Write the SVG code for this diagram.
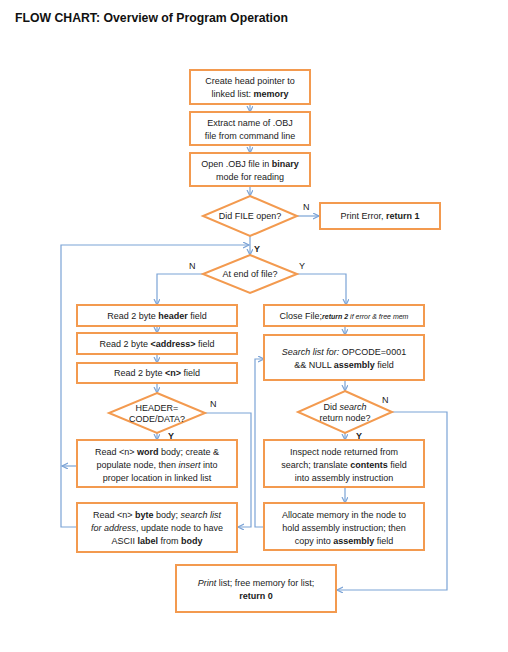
<svg xmlns="http://www.w3.org/2000/svg" width="508" height="652" viewBox="0 0 508 652">
<style>
.box{fill:#fff;stroke:#f39a4f;stroke-width:2}
.dec{fill:#fff;stroke:#f39a4f;stroke-width:2}
.t{font-family:"Liberation Sans",Arial,sans-serif;font-size:9px;fill:#1a1a1a;text-anchor:middle}
.lbl{font-family:"Liberation Sans",Arial,sans-serif;font-size:9px;fill:#1a1a1a}
.c{fill:none;stroke:#7ba3d6;stroke-width:1.2}
.b{font-weight:bold}
.i{font-style:italic}
</style>
<defs>
<marker id="ah" markerWidth="8" markerHeight="8" refX="6" refY="3" orient="auto" markerUnits="userSpaceOnUse">
<path d="M0,0 L6,3 L0,6" fill="none" stroke="#7ba3d6" stroke-width="1.2"/>
</marker>
</defs>
<rect width="508" height="652" fill="#fff"/>
<text x="15" y="22" font-family="'Liberation Sans',Arial,sans-serif" font-size="13" font-weight="bold" fill="#111" textLength="273" lengthAdjust="spacingAndGlyphs">FLOW CHART: Overview of Program Operation</text>

<g id="connectors">
<path class="c" d="M250,104 V112" marker-end="url(#ah)"/>
<path class="c" d="M250,145 V153" marker-end="url(#ah)"/>
<path class="c" d="M250,186 V196" marker-end="url(#ah)"/>
<path class="c" d="M297,216 H319" marker-end="url(#ah)"/>
<path class="c" d="M250,236 V255" marker-end="url(#ah)"/>
<path class="c" d="M77,527 H61 V245 H249" marker-end="url(#ah)"/>
<path class="c" d="M77,466 H62" marker-end="url(#ah)"/>
<path class="c" d="M203,274 H157 V305" marker-end="url(#ah)"/>
<path class="c" d="M297,274 H346 V305" marker-end="url(#ah)"/>
<path class="c" d="M157,326 V333" marker-end="url(#ah)"/>
<path class="c" d="M157,354 V363" marker-end="url(#ah)"/>
<path class="c" d="M157,383 V393" marker-end="url(#ah)"/>
<path class="c" d="M157,433 V440" marker-end="url(#ah)"/>
<path class="c" d="M205,413 H251 V527 H238" marker-end="url(#ah)"/>
<path class="c" d="M345,326 V335" marker-end="url(#ah)"/>
<path class="c" d="M345,380 V391" marker-end="url(#ah)"/>
<path class="c" d="M345,433 V440" marker-end="url(#ah)"/>
<path class="c" d="M345,487 V503" marker-end="url(#ah)"/>
<path class="c" d="M264,527 H255 V359 H264" marker-end="url(#ah)"/>
<path class="c" d="M392,412 H447 V590 H337" marker-end="url(#ah)"/>
<text class="lbl" x="303" y="210">N</text>
<text class="lbl b" x="254" y="252">Y</text>
<text class="lbl" x="189" y="269">N</text>
<text class="lbl" x="299" y="269">Y</text>
<text class="lbl" x="210" y="407">N</text>
<text class="lbl b" x="168" y="439">Y</text>
<text class="lbl" x="382" y="403">N</text>
<text class="lbl b" x="356" y="439">Y</text>
</g>

<g id="n1"><rect class="box" x="190" y="70" width="120" height="34"/>
<text class="t" x="250" y="84">Create head pointer to</text>
<text class="t" x="250" y="97">linked list: <tspan class="b">memory</tspan></text></g>

<g id="n2"><rect class="box" x="190" y="112" width="120" height="33"/>
<text class="t" x="250" y="126">Extract name of .OBJ</text>
<text class="t" x="250" y="139">file from command line</text></g>

<g id="n3"><rect class="box" x="190" y="153" width="120" height="33"/>
<text class="t" x="250" y="167">Open .OBJ file in <tspan class="b">binary</tspan></text>
<text class="t" x="250" y="180">mode for reading</text></g>

<g id="d1"><polygon class="dec" points="250,196 297,216 250,236 203,216"/>
<text class="t" x="250" y="219">Did FILE open?</text></g>

<g id="n4"><rect class="box" x="320" y="203" width="120" height="26"/>
<text class="t" x="380" y="219">Print Error, <tspan class="b">return 1</tspan></text></g>

<g id="d2"><polygon class="dec" points="250,255 297,274 250,293 203,274"/>
<text class="t" x="250" y="277">At end of file?</text></g>

<g id="n5"><rect class="box" x="77" y="305" width="160" height="21"/>
<text class="t" x="157" y="319">Read 2 byte <tspan class="b">header</tspan> field</text></g>

<g id="n6"><rect class="box" x="77" y="333" width="160" height="21"/>
<text class="t" x="157" y="347">Read 2 byte <tspan class="b">&lt;address&gt;</tspan> field</text></g>

<g id="n7"><rect class="box" x="77" y="363" width="160" height="20"/>
<text class="t" x="157" y="376">Read 2 byte <tspan class="b">&lt;n&gt;</tspan> field</text></g>

<g id="d3"><polygon class="dec" points="157,393 205,413 157,433 109,413"/>
<text class="t" x="157" y="411" font-size="8.5">HEADER=</text>
<text class="t" x="157" y="422" font-size="8.5">CODE/DATA?</text></g>

<g id="n8"><rect class="box" x="77" y="440" width="160" height="47"/>
<text class="t" x="157" y="455">Read &lt;n&gt; <tspan class="b">word</tspan> body; create &amp;</text>
<text class="t" x="157" y="468">populate node, then <tspan class="i">insert</tspan> into</text>
<text class="t" x="157" y="481">proper location in linked list</text></g>

<g id="n9"><rect class="box" x="77" y="503" width="160" height="49"/>
<text class="t" x="157" y="518">Read &lt;n&gt; <tspan class="b">byte</tspan> body; <tspan class="i">search list</tspan></text>
<text class="t" x="157" y="531"><tspan class="i">for address</tspan>, update node to have</text>
<text class="t" x="157" y="544">ASCII <tspan class="b">label</tspan> from <tspan class="b">body</tspan></text></g>

<g id="n10"><rect class="box" x="264" y="305" width="160" height="21"/>
<text class="t" x="344" y="319">Close File;<tspan class="b i" font-size="7">return 2</tspan><tspan class="i" font-size="7"> if error &amp; free mem</tspan></text></g>

<g id="n11"><rect class="box" x="264" y="335" width="160" height="45"/>
<text class="t" x="344" y="355"><tspan class="i">Search list for:</tspan> OPCODE=0001</text>
<text class="t" x="344" y="368">&amp;&amp; NULL <tspan class="b">assembly</tspan> field</text></g>

<g id="d4"><polygon class="dec" points="345,391 392,412 345,433 298,412"/>
<text class="t" x="345" y="410" font-size="8.5">Did <tspan class="i">search</tspan></text>
<text class="t" x="345" y="421" font-size="8.5">return node?</text></g>

<g id="n12"><rect class="box" x="264" y="440" width="160" height="47"/>
<text class="t" x="344" y="455">Inspect node returned from</text>
<text class="t" x="344" y="468">search; translate <tspan class="b">contents</tspan> field</text>
<text class="t" x="344" y="481">into assembly instruction</text></g>

<g id="n13"><rect class="box" x="264" y="503" width="160" height="47"/>
<text class="t" x="344" y="518">Allocate memory in the node to</text>
<text class="t" x="344" y="531">hold assembly instruction; then</text>
<text class="t" x="344" y="544">copy into <tspan class="b">assembly</tspan> field</text></g>

<g id="n14"><rect class="box" x="176" y="565" width="160" height="47"/>
<text class="t" x="256" y="586"><tspan class="i">Print</tspan> list; free memory for list;</text>
<text class="t" x="256" y="599"><tspan class="b">return 0</tspan></text></g>
</svg>
